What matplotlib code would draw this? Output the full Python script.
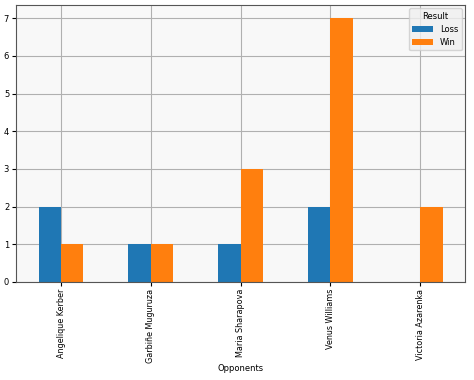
import matplotlib.pyplot as plt
import numpy as np

opponents = ["Angelique Kerber", "Garbiñe Muguruza", "Maria Sharapova",
             "Venus Williams", "Victoria Azarenka"]
loss = [2, 1, 1, 2, 0]
win = [1, 1, 3, 7, 2]


def main():
    fig, ax = plt.subplots(figsize=(4.74, 3.8), dpi=100)
    fig.subplots_adjust(left=0.034, right=0.981, top=0.987, bottom=0.258)
    ax.set_facecolor("#f8f8f8")
    ax.set_axisbelow(True)

    x = np.arange(len(opponents))
    w = 0.25
    ax.bar(x - w / 2, loss, w, color="#1f77b4", label="Loss")
    ax.bar(x + w / 2, win, w, color="#ff7f0e", label="Win")

    ax.set_xlim(-0.5, len(opponents) - 0.5)
    ax.set_ylim(0, max(win) * 1.05)
    ax.set_xticks(x)
    ax.set_xticklabels(opponents, rotation=90, fontsize=5.8)
    ax.tick_params(axis="both", labelsize=6, length=3, pad=2)
    ax.tick_params(axis="x", labelsize=5.8)
    ax.set_xlabel("Opponents", fontsize=6, labelpad=1)
    ax.grid(True, color="#b0b0b0", linewidth=0.8)
    for s in ax.spines.values():
        s.set_color("#555555")

    leg = ax.legend(title="Result", fontsize=6, title_fontsize=6, loc="upper right",
                    handlelength=2.5, borderaxespad=0.4)
    leg.get_frame().set_facecolor("#f0f0f0")

    plt.savefig("out.png")


if __name__ == "__main__":
    main()
